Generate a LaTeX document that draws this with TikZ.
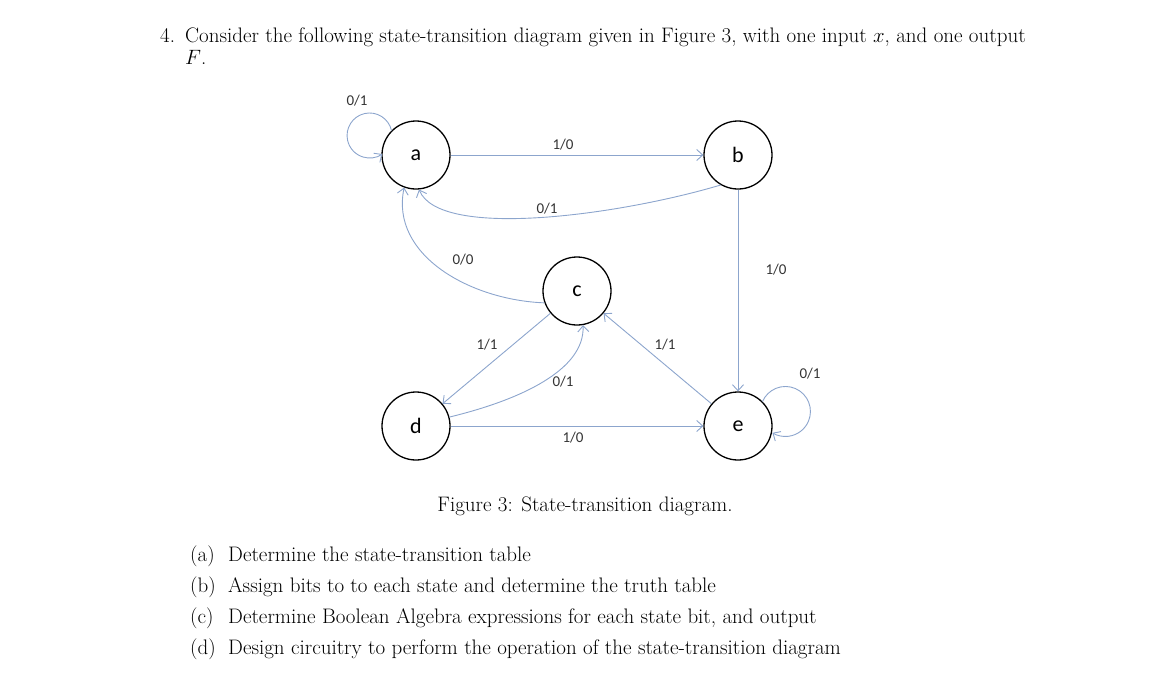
\documentclass[tikz,border=0pt]{standalone}
\usepackage{fontspec}
\newfontfamily\lblfont{Carlito}
\usetikzlibrary{arrows.meta}
\definecolor{edgeblue}{RGB}{140,165,205}
\newcommand{\itemlbl}[1]{\makebox[38pt][l]{#1}}
\begin{document}
\begin{tikzpicture}[x=1pt,y=-1pt,
  state/.style={circle,draw=black,line width=1.3pt,minimum size=68pt,inner sep=0pt,font=\lblfont\fontsize{22}{24}\selectfont},
  edge/.style={draw=edgeblue,line width=0.9pt,-{Straight Barb[length=6pt,width=11pt]}},
  lbl/.style={font=\lblfont\fontsize{15}{17}\selectfont,text=black!80,inner sep=0pt},
  body/.style={font=\fontsize{21}{25}\selectfont,anchor=base west,inner sep=0pt}]
\useasboundingbox (0,0) rectangle (1170,673);
% text
\node[body] (t1) at (160,42) {\makebox[25pt][l]{4.}Consider the following state-transition diagram given in Figure 3, with one input $x$, and one output};
\node[body] (t2) at (185,64) {$F$.};
\node[body,anchor=base] (cap) at (585,511) {Figure 3: State-transition diagram.};
\node[body] (qa) at (190,561) {\itemlbl{(a)}Determine the state-transition table};
\node[body] (qb) at (190,592) {\itemlbl{(b)}Assign bits to to each state and determine the truth table};
\node[body] (qc) at (190,623) {\itemlbl{(c)}Determine Boolean Algebra expressions for each state bit, and output};
\node[body] (qd) at (190,654) {\itemlbl{(d)}Design circuitry to perform the operation of the state-transition diagram};
% states
\node[state] (a) at (416,155) {a};
\node[state] (b) at (738,155) {b};
\node[state] (c) at (577,291) {c};
\node[state] (d) at (416,426) {d};
\node[state] (e) at (738,426) {e};
% edges
\draw[edge] (a) -- (b);
\draw[edge] (b.240) .. controls (620,215) and (440,240) .. (a.275);
\draw[edge] (c.200) .. controls (470,300) and (390,255) .. (a.250);
\draw[edge] (a.135) arc[start angle=12.8, end angle=304.4, radius=22.5pt];
\draw[edge] (b) -- (e);
\draw[edge] (c) -- (d);
\draw[edge] (d.15) .. controls (520,400) and (585,370) .. (c.280);
\draw[edge] (e) -- (c);
\draw[edge] (d) -- (e);
\draw[edge] (e.45) arc[start angle=156.5, end angle=-121.3, radius=25pt];
% labels
\node[lbl] (l1) at (357,101) {0/1};
\node[lbl] (l2) at (563,145) {1/0};
\node[lbl] (l3) at (547,209) {0/1};
\node[lbl] (l4) at (463,260) {0/0};
\node[lbl] (l5) at (776,270) {1/0};
\node[lbl] (l6) at (487,345) {1/1};
\node[lbl] (l7) at (665,345) {1/1};
\node[lbl] (l8) at (563,382) {0/1};
\node[lbl] (l9) at (810,374) {0/1};
\node[lbl] (l10) at (573,438) {1/0};
\end{tikzpicture}
\end{document}
